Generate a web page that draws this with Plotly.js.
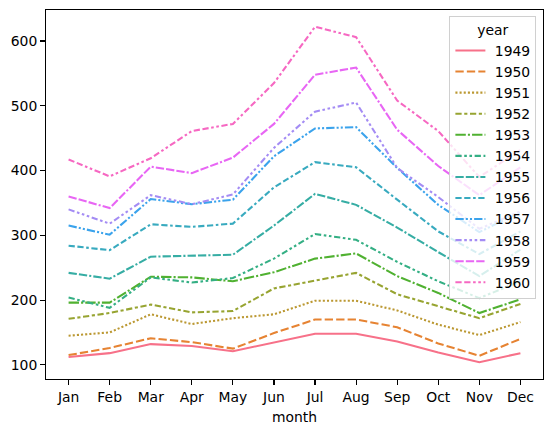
<!DOCTYPE html>
<html><head><meta charset="utf-8">
<script src="https://cdn.plot.ly/plotly-3.0.1.min.js"></script>
<style>html,body{margin:0;padding:0;background:#fff;}#chart{width:552px;height:432px;}</style>
</head><body><div id="chart"></div>
<script>
const months = ["Jan","Feb","Mar","Apr","May","Jun","Jul","Aug","Sep","Oct","Nov","Dec"];
const years = ["1949","1950","1951","1952","1953","1954","1955","1956","1957","1958","1959","1960"];
const p1949 = [112,118,132,129,121,135,148,148,136,119,104,118];
const p1950 = [115,126,141,135,125,149,170,170,158,133,114,140];
const p1951 = [145,150,178,163,172,178,199,199,184,162,146,166];
const p1952 = [171,180,193,181,183,218,230,242,209,191,172,194];
const p1953 = [196,196,236,235,229,243,264,272,237,211,180,201];
const p1954 = [204,188,235,227,234,264,302,293,259,229,203,229];
const p1955 = [242,233,267,269,270,315,364,347,312,274,237,278];
const p1956 = [284,277,317,313,318,374,413,405,355,306,271,306];
const p1957 = [315,301,356,348,355,422,465,467,404,347,305,336];
const p1958 = [340,318,362,348,363,435,491,505,404,359,310,337];
const p1959 = [360,342,406,396,420,472,548,559,463,407,362,405];
const p1960 = [417,391,419,461,472,535,622,606,508,461,390,432];
const series = [p1949,p1950,p1951,p1952,p1953,p1954,p1955,p1956,p1957,p1958,p1959,p1960];
const yTicks = [100,200,300,400,500,600];

// HUSL palette (style only)
const M = [[3.240969941904521,-1.537383177570093,-0.498610760293],
           [-0.96924363628087,1.87596750150772,0.041555057407175],
           [0.055630079696993,-0.20397695888897,1.056971514242878]];
const kappa = 903.2962962, eps = 0.0088564516, refU = 0.19783000664283, refV = 0.46831999493879;
function bounds(L){const s1=Math.pow(L+16,3)/1560896;const s2=s1>eps?s1:L/kappa;const r=[];
 for(const [m1,m2,m3] of M){for(const t of [0,1]){const top1=(284517*m1-94839*m3)*s2;
 const top2=(838422*m3+769860*m2+731718*m1)*L*s2-769860*t*L;const bot=(632260*m3-126452*m2)*s2+126452*t;
 r.push([top1/bot,top2/bot]);}}return r;}
function maxC(L,H){const h=H/360*2*Math.PI;let mn=Infinity;for(const [sl,ic] of bounds(L)){const len=ic/(Math.sin(h)-sl*Math.cos(h));if(len>=0&&len<mn)mn=len;}return mn;}
function husl(H,S,L){const C=maxC(L,H)/100*S;const h=H/360*2*Math.PI;const U=C*Math.cos(h),V=C*Math.sin(h);
 const vu=U/(13*L)+refU,vv=V/(13*L)+refV;const Y=L<=8?L/kappa:Math.pow((L+16)/116,3);
 const X=0-(9*Y*vu)/((vu-4)*vv-vu*vv);const Z=(9*Y-15*vv*Y-vv*X)/(3*vv);
 const f=c=>{c=c<=0.0031308?12.92*c:1.055*Math.pow(c,1/2.4)-0.055;return Math.round(Math.max(0,Math.min(1,c))*255);};
 const rgb=M.map(r=>f(r[0]*X+r[1]*Y+r[2]*Z));return 'rgb('+rgb.join(',')+')';}
const colors = years.map((_,i)=>{let h=(i/12+0.01)%1;return husl(h*359,0.9*99,0.65*99);});

const u = 1.5*100/72;
const dashUnits = [null,[4,1.5],[1,1],[3,1.25,1.5,1.25],[5,1,1,1],[3,1.25,1.25,1.25,1.25,1.25],
  [4,1,4,1,1,1],[3,1.25,3,1.25,1.25,1.25],[4,1,1,1,1,1],[3,1.25,1.25,1.25,1.25,1.25,1.25,1.25],
  [4,1,4,1,4,1,1,1],[3,1.25,3,1.25,1.25,1.25,1.25,1.25]];
const dashes = dashUnits.map(d=>d?d.map(v=>(v*u).toFixed(2)+'px').join(','):'solid');

const traces = series.map((vals,i)=>({
  x: months, y: vals, type:'scatter', mode:'lines', name: '\u00a0' + years[i], legendgroup: years[i],
  line:{color:colors[i], width:2.08, dash:dashes[i]}
}));

const font = {family:'DejaVu Sans', size:13.9, color:'#000'};
const layout = {
  width:552, height:432, margin:{l:46, r:9, t:10, b:53},
  paper_bgcolor:'#fff', plot_bgcolor:'#fff', font: font, showlegend:true,
  xaxis:{type:'category', range:[-0.55,11.55], showgrid:false, zeroline:false,
    showline:true, mirror:true, linecolor:'#000', linewidth:1.1,
    ticks:'outside', ticklen:4.9, tickwidth:1.1, tickcolor:'#000', tickfont:font,
    title:{text:'month', font:font, standoff:8}},
  yaxis:{range:[78.1,647.9], showgrid:false, zeroline:false, tickvals:yTicks,
    showline:true, mirror:true, linecolor:'#000', linewidth:1.1,
    ticks:'outside', ticklen:4.9, tickwidth:1.1, tickcolor:'#000', tickfont:font},
  legend:{x:0.9867, y:0.984, xanchor:'right', yanchor:'top', bgcolor:'rgba(255,255,255,0.8)',
    bordercolor:'#d0d0d0', borderwidth:1, font:font, tracegroupgap:0,
    title:{text:'year', font:font, side:'top center'}}
};
Plotly.newPlot('chart', traces, layout, {displayModeBar:false, staticPlot:true});
</script></body></html>
